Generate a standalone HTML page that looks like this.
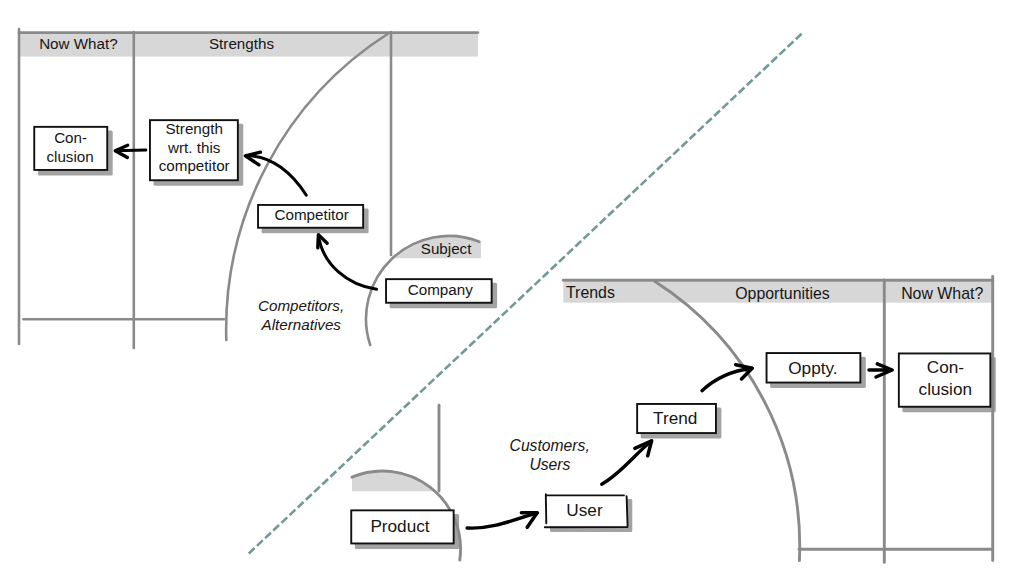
<!DOCTYPE html>
<html>
<head>
<meta charset="utf-8">
<style>
html,body{margin:0;padding:0;background:#fff;}
body{width:1024px;height:581px;overflow:hidden;}
svg{display:block;}
text{font-family:"Liberation Sans",sans-serif;fill:#161616;}
.it{font-style:italic;}
.g{stroke:#8a8a8a;stroke-width:2.6;fill:none;stroke-linecap:round;}
.band{fill:#d7d7d7;}
.g2{stroke:#8a8a8a;stroke-width:2.9;fill:none;stroke-linecap:round;}
.box{fill:#fff;stroke:#111;stroke-width:1.9;}
.hd{stroke:#111;stroke-width:1.9;fill:none;stroke-linecap:round;}
.sh{fill:#a3a3a3;filter:url(#blur);}
.ar{stroke:#000;stroke-width:3;fill:none;stroke-linecap:round;stroke-linejoin:round;}
.ah{stroke:#000;stroke-width:3.4;fill:none;stroke-linecap:round;stroke-linejoin:round;}
.ar2{stroke:#000;stroke-width:3.4;fill:none;stroke-linecap:round;stroke-linejoin:round;}
.ah2{stroke:#000;stroke-width:3.5;fill:none;stroke-linecap:round;stroke-linejoin:round;}
</style>
</head>
<body>
<svg width="1024" height="581" viewBox="0 0 1024 581">
<defs>
<filter id="blur" x="-20%" y="-40%" width="140%" height="180%"><feGaussianBlur stdDeviation="0.6"/></filter>
</defs>
<rect class="sh" x="37.8" y="130.5" width="74.9" height="45.0" rx="1.5"/>
<rect class="sh" x="153.5" y="123.8" width="89.8" height="62.0" rx="1.5"/>
<rect class="sh" x="261.6" y="208.6" width="107.0" height="24.7" rx="1.5"/>
<rect class="sh" x="389.6" y="282.8" width="107.5" height="25.5" rx="1.5"/>
<rect class="sh" x="354.8" y="514.0" width="104.3" height="35.0" rx="1.5"/>
<rect class="sh" x="550.0" y="499.1" width="82.3" height="32.9" rx="1.5"/>
<rect class="sh" x="640.7" y="407.6" width="80.7" height="31.0" rx="1.5"/>
<rect class="sh" x="770.1" y="356.7" width="95.7" height="31.4" rx="1.5"/>
<rect class="sh" x="902.4" y="357.1" width="93.4" height="55.2" rx="1.5"/>
<rect class="band" x="19" y="33.9" width="459" height="22.7"/>
<line class="g" x1="19" y1="32.6" x2="478" y2="32.6"/>
<line class="g" x1="19" y1="29" x2="19" y2="344"/>
<line class="g" x1="133.8" y1="32" x2="133.8" y2="348"/>
<line class="g" x1="391" y1="32" x2="391" y2="255"/>
<line class="g" x1="23.5" y1="319.2" x2="224" y2="319.2"/>
<path class="g" d="M389 33 A351.4 351.4 0 0 0 226.3 340"/>
<path class="band" d="M392.4 258.3 A83 83 0 0 1 481 242.4 L481 258.3 Z"/>
<path class="g" d="M370.2 345 A83 83 0 0 1 479.3 241.7"/>
<line x1="801.6" y1="33.76" x2="248.8" y2="553.5" stroke="#6f9a97" stroke-width="2.6" stroke-dasharray="8 3.206"/>
<rect class="band" x="563.3" y="281.6" width="429.4" height="21.1"/>
<line class="g2" x1="563.3" y1="280.2" x2="992.7" y2="280.2"/>
<line class="g2" x1="992.7" y1="276.5" x2="992.7" y2="560.6"/>
<line class="g2" x1="884.3" y1="280" x2="884.3" y2="562.4"/>
<line class="g2" x1="799" y1="549.2" x2="992.5" y2="549.2"/>
<path class="g2" d="M654.3 281 A314.9 314.9 0 0 1 799.4 560.6"/>
<path class="band" d="M352 477.2 A78.1 78.1 0 0 1 435.1 491.3 L352 491.3 Z"/>
<line class="g2" x1="439" y1="405.2" x2="439" y2="491"/>
<path class="g2" d="M352 477.2 A78.1 78.1 0 0 1 459.8 560"/>
<rect class="box" x="34.25" y="126.85" width="73.00" height="43.10"/>
<rect class="box" x="149.95" y="120.15" width="87.90" height="60.10"/>
<rect class="box" x="258.05" y="204.95" width="105.10" height="22.80"/>
<rect class="box" x="386.05" y="279.15" width="105.60" height="23.60"/>
<rect class="box" x="351.25" y="510.35" width="102.40" height="33.10"/>
<rect x="546.5" y="495.5" width="80.5" height="31" fill="#fff"/>
<path class="hd" d="M546 495.3 L624 495.4 M626.6 496.2 L627.6 526 M544.8 527.3 L627.4 527.1 M545.8 494.2 L546.3 523.3"/>
<rect class="box" x="637.15" y="403.95" width="78.80" height="29.10"/>
<rect class="box" x="766.55" y="353.05" width="93.80" height="29.50"/>
<rect class="box" x="898.85" y="353.45" width="91.50" height="53.30"/>
<text x="78.4" y="48.7" font-size="15.2" text-anchor="middle">Now What?</text>
<text x="241.5" y="48.7" font-size="15.2" text-anchor="middle">Strengths</text>
<text x="446.1" y="253.6" font-size="15.2" text-anchor="middle">Subject</text>
<text x="70.6" y="143.3" font-size="15.2" text-anchor="middle">Con-</text>
<text x="70.1" y="161.8" font-size="15.2" text-anchor="middle">clusion</text>
<text x="194.2" y="134.2" font-size="15.2" text-anchor="middle">Strength</text>
<text x="194.2" y="153" font-size="15.2" text-anchor="middle">wrt. this</text>
<text x="194.2" y="170.6" font-size="15.2" text-anchor="middle">competitor</text>
<text x="311.65" y="220.3" font-size="15.2" text-anchor="middle">Competitor</text>
<text x="440.25" y="295.1" font-size="15.2" text-anchor="middle">Company</text>
<text class="it" x="301.1" y="311.3" font-size="15.2" text-anchor="middle">Competitors,</text>
<text class="it" x="301.3" y="329.8" font-size="15.2" text-anchor="middle">Alternatives</text>
<text x="566" y="298.3" font-size="15.9" text-anchor="start">Trends</text>
<text x="782.5" y="298.5" font-size="15.9" text-anchor="middle">Opportunities</text>
<text x="942.2" y="298.8" font-size="15.9" text-anchor="middle">Now What?</text>
<text x="400" y="531.5" font-size="17.2" text-anchor="middle">Product</text>
<text x="584.5" y="516.1" font-size="17.2" text-anchor="middle">User</text>
<text x="675.25" y="423.7" font-size="17.2" text-anchor="middle">Trend</text>
<text x="812.9" y="374.3" font-size="17.2" text-anchor="middle">Oppty.</text>
<text x="945.4" y="373.4" font-size="17.2" text-anchor="middle">Con-</text>
<text x="945.3" y="394.5" font-size="17.2" text-anchor="middle">clusion</text>
<text class="it" x="549.65" y="450.6" font-size="15.7" text-anchor="middle">Customers,</text>
<text class="it" x="549.9" y="470" font-size="15.7" text-anchor="middle">Users</text>
<path class="ar" d="M145.8 150 L115.5 150.7"/><path class="ah" d="M127.7 145.3 L115.2 150.7 L127.4 157.5"/>
<path class="ar" d="M306.3 195.2 C293.2 174.5 271.7 154.5 245.6 155.9"/><path class="ah" d="M260.4 152.2 L245.4 155.9 L258.9 164.8"/>
<path class="ar" d="M376.6 289.3 C347.7 285.1 322.4 264.6 318.4 235"/><path class="ah" d="M327.2 243.2 L318.4 234.8 L317.8 247.8"/>
<path class="ar2" d="M467.1 528.0 C491.6 529.6 514.5 519.4 537 512.9"/><path class="ah2" d="M521.4 512.8 L537.2 512.8 L527.2 527.2"/>
<path class="ar2" d="M601.7 484.2 C621.4 473.2 634.4 454.5 651.5 441"/><path class="ah2" d="M634.8 448.4 L651.6 440.9 L647.7 455.7"/>
<path class="ar2" d="M702.0 390.7 C716.1 377.3 733.3 370.5 752 368.2"/><path class="ah2" d="M735.7 364.7 L752.2 368.2 L741.5 378.9"/>
<path class="ah2" d="M869 370 L891.8 370 M877.3 363.8 L892.2 370 L876 377"/>
</svg>
</body>
</html>
